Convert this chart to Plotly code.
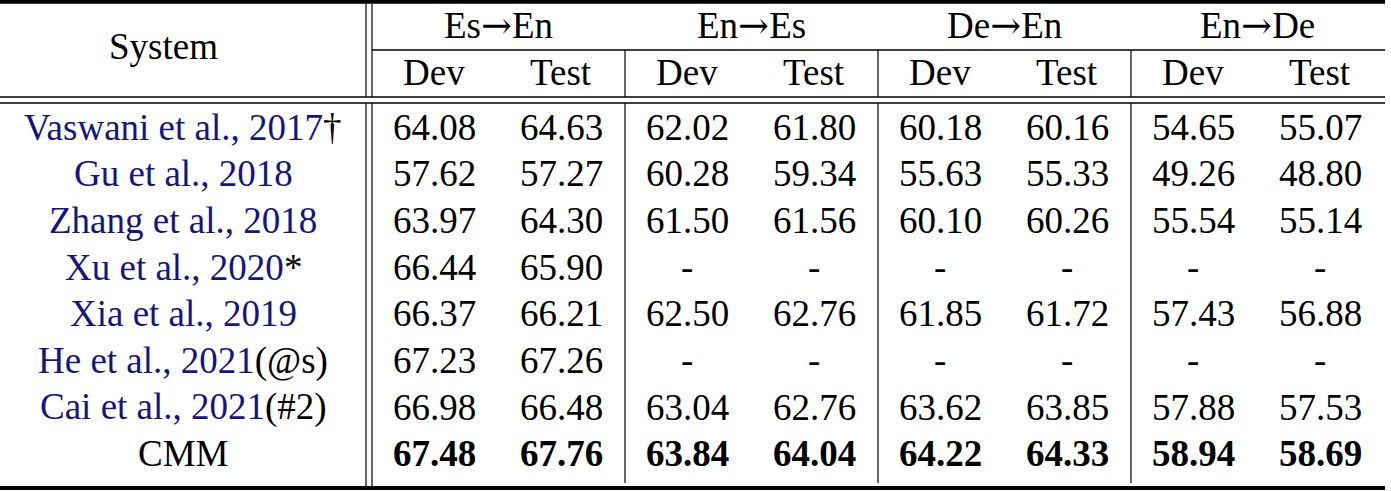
import plotly.graph_objects as go

# ---------------- data ----------------
systems = ["Vaswani et al., 2017", "Gu et al., 2018", "Zhang et al., 2018",
           "Xu et al., 2020", "Xia et al., 2019", "He et al., 2021",
           "Cai et al., 2021", "CMM"]
suffixes = ["†", "", "", "*", "", "(@s)", "(#2)", ""]
is_citation = [True, True, True, True, True, True, True, False]
directions = [("Es", "En"), ("En", "Es"), ("De", "En"), ("En", "De")]
splits = ["Dev", "Test"]

es_en_dev = [64.08, 57.62, 63.97, 66.44, 66.37, 67.23, 66.98, 67.48]
es_en_test = [64.63, 57.27, 64.30, 65.90, 66.21, 67.26, 66.48, 67.76]
en_es_dev = [62.02, 60.28, 61.50, None, 62.50, None, 63.04, 63.84]
en_es_test = [61.80, 59.34, 61.56, None, 62.76, None, 62.76, 64.04]
de_en_dev = [60.18, 55.63, 60.10, None, 61.85, None, 63.62, 64.22]
de_en_test = [60.16, 55.33, 60.26, None, 61.72, None, 63.85, 64.33]
en_de_dev = [54.65, 49.26, 55.54, None, 57.43, None, 57.88, 58.94]
en_de_test = [55.07, 48.80, 55.14, None, 56.88, None, 57.53, 58.69]
bold_row = [False] * 7 + [True]

columns = [es_en_dev, es_en_test, en_es_dev, en_es_test,
           de_en_dev, de_en_test, en_de_dev, en_de_test]

# ---------------- layout constants ----------------
W, H = 1391, 491
FONT = "Liberation Serif, Times New Roman, serif"
FS = 37
CITE = "#15157f"
RIGHT = 1385
DV1, DV2 = 366, 372
GROUP_W = 253
group_left = [DV2 + GROUP_W * g for g in range(4)]
sub_off = [62, 189]
HDR1_Y, HDR2_Y, SYS_Y = 25, 72, 46
CMID_Y = 50
DH1, DH2 = 97, 103
ROW0, ROW_STEP = 127, 46.7
LABEL_X, SYS_X = 183, 163
TOP_B, BOT_T = 3.8, 486

fig = go.Figure()
shapes = []
ann = []

def hline(y, x0, x1, w=1.4):
    shapes.append(dict(type="line", xref="x", yref="y", x0=x0, x1=x1, y0=y, y1=y,
                       line=dict(color="black", width=w)))

def vline(x, y0, y1, w=1.2):
    shapes.append(dict(type="line", xref="x", yref="y", x0=x, x1=x, y0=y0, y1=y1,
                       line=dict(color="black", width=w)))

# rules
shapes.append(dict(type="rect", xref="x", yref="y", x0=0, x1=RIGHT, y0=0, y1=TOP_B,
                   fillcolor="black", line=dict(width=0)))
shapes.append(dict(type="rect", xref="x", yref="y", x0=0, x1=RIGHT, y0=BOT_T, y1=BOT_T + 4,
                   fillcolor="black", line=dict(width=0)))
hline(CMID_Y, DV2, RIGHT)
hline(DH1, 0, RIGHT)
hline(DH2, 0, RIGHT)
for x in (DV1, DV2):
    vline(x, TOP_B, DH1)
    vline(x, DH2, BOT_T)
for g in range(1, 4):
    x = group_left[g]
    vline(x, CMID_Y, DH1)
    vline(x, DH2, BOT_T - 3)

def text(x, y, s):
    ann.append(dict(x=x, y=y, xref="x", yref="y", text=s, showarrow=False,
                    xanchor="center", yanchor="middle",
                    font=dict(family=FONT, size=FS, color="black")))

ARROW = "<span style='font-family:DejaVu Serif'>→</span>"

# headers
text(SYS_X, SYS_Y, "System")
for g, (a, b) in enumerate(directions):
    text(group_left[g] + GROUP_W / 2, HDR1_Y, a + ARROW + b)
    for k, s in enumerate(splits):
        text(group_left[g] + sub_off[k], HDR2_Y, s)

# body
for i, name in enumerate(systems):
    y = ROW0 + ROW_STEP * i
    if is_citation[i]:
        lab = f"<span style='color:{CITE}'>{name}</span>{suffixes[i]}"
    else:
        lab = name + suffixes[i]
    text(LABEL_X, y, lab)
    for c, col in enumerate(columns):
        v = col[i]
        s = "-" if v is None else f"{v:.2f}"
        if bold_row[i] and v is not None:
            s = f"<b>{s}</b>"
        text(group_left[c // 2] + sub_off[c % 2], y, s)

fig.update_layout(
    width=W, height=H, margin=dict(l=0, r=0, t=0, b=0),
    paper_bgcolor="white", plot_bgcolor="white",
    xaxis=dict(range=[0, W], visible=False, fixedrange=True),
    yaxis=dict(range=[H, 0], visible=False, fixedrange=True),
    shapes=shapes, annotations=ann, showlegend=False,
)
fig.write_html("out.html", config={"displayModeBar": False},
               post_script="document.body.style.margin='0';document.body.style.overflow='hidden';")
